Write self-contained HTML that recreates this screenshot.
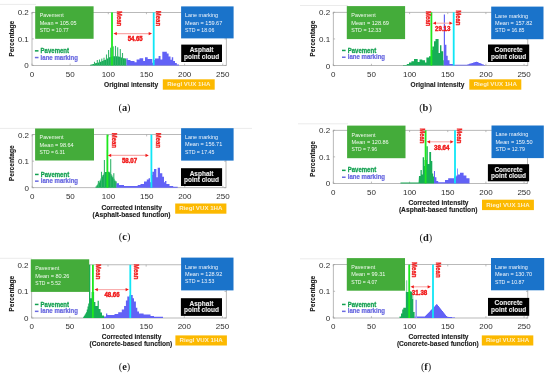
<!DOCTYPE html>
<html><head><meta charset="utf-8"><title>Intensity histograms</title>
<style>
html,body{margin:0;padding:0;background:#fff;}
body{width:550px;height:376px;overflow:hidden;}
svg{display:block;}
</style></head>
<body>
<svg width="550" height="376" viewBox="0 0 550 376">
<rect width="550" height="376" fill="#fff"/>
<line x1="0" y1="4.4" x2="36" y2="4.4" stroke="#e6e6e6" stroke-width="0.8"/>
<line x1="300" y1="5.5" x2="348" y2="5.5" stroke="#e6e6e6" stroke-width="0.8"/>
<line x1="0" y1="128.4" x2="252" y2="128.4" stroke="#e6e6e6" stroke-width="0.8"/>
<line x1="298" y1="123.8" x2="348" y2="123.8" stroke="#e6e6e6" stroke-width="0.8"/>
<line x1="0" y1="258.3" x2="32" y2="258.3" stroke="#e6e6e6" stroke-width="0.8"/>
<line x1="300" y1="258.8" x2="348" y2="258.8" stroke="#e6e6e6" stroke-width="0.8"/>
<rect x="32" y="12.4" width="194.3" height="53" fill="none" stroke="#a8a8a8" stroke-width="0.8"/>
<line x1="32" y1="65.4" x2="32" y2="63.6" stroke="#a0a0a0" stroke-width="0.7"/>
<line x1="32" y1="12.4" x2="32" y2="14.2" stroke="#a0a0a0" stroke-width="0.7"/>
<text transform="translate(32,76.7)" font-family="'Liberation Sans', Arial, sans-serif" font-size="8" font-weight="normal" fill="#2e2e2e" text-anchor="middle" >0</text>
<line x1="70.15" y1="65.4" x2="70.15" y2="63.6" stroke="#a0a0a0" stroke-width="0.7"/>
<line x1="70.15" y1="12.4" x2="70.15" y2="14.2" stroke="#a0a0a0" stroke-width="0.7"/>
<text transform="translate(70.15,76.7)" font-family="'Liberation Sans', Arial, sans-serif" font-size="8" font-weight="normal" fill="#2e2e2e" text-anchor="middle" >50</text>
<line x1="108.3" y1="65.4" x2="108.3" y2="63.6" stroke="#a0a0a0" stroke-width="0.7"/>
<line x1="108.3" y1="12.4" x2="108.3" y2="14.2" stroke="#a0a0a0" stroke-width="0.7"/>
<text transform="translate(108.3,76.7)" font-family="'Liberation Sans', Arial, sans-serif" font-size="8" font-weight="normal" fill="#2e2e2e" text-anchor="middle" >100</text>
<line x1="146.45" y1="65.4" x2="146.45" y2="63.6" stroke="#a0a0a0" stroke-width="0.7"/>
<line x1="146.45" y1="12.4" x2="146.45" y2="14.2" stroke="#a0a0a0" stroke-width="0.7"/>
<text transform="translate(146.45,76.7)" font-family="'Liberation Sans', Arial, sans-serif" font-size="8" font-weight="normal" fill="#2e2e2e" text-anchor="middle" >150</text>
<line x1="184.6" y1="65.4" x2="184.6" y2="63.6" stroke="#a0a0a0" stroke-width="0.7"/>
<line x1="184.6" y1="12.4" x2="184.6" y2="14.2" stroke="#a0a0a0" stroke-width="0.7"/>
<text transform="translate(184.6,76.7)" font-family="'Liberation Sans', Arial, sans-serif" font-size="8" font-weight="normal" fill="#2e2e2e" text-anchor="middle" >200</text>
<line x1="222.75" y1="65.4" x2="222.75" y2="63.6" stroke="#a0a0a0" stroke-width="0.7"/>
<line x1="222.75" y1="12.4" x2="222.75" y2="14.2" stroke="#a0a0a0" stroke-width="0.7"/>
<text transform="translate(222.75,76.7)" font-family="'Liberation Sans', Arial, sans-serif" font-size="8" font-weight="normal" fill="#2e2e2e" text-anchor="middle" >250</text>
<line x1="32" y1="65.4" x2="33.8" y2="65.4" stroke="#a0a0a0" stroke-width="0.7"/>
<line x1="226.3" y1="65.4" x2="224.5" y2="65.4" stroke="#a0a0a0" stroke-width="0.7"/>
<text transform="translate(28.8,68.3)" font-family="'Liberation Sans', Arial, sans-serif" font-size="8" font-weight="normal" fill="#2e2e2e" text-anchor="end" >0</text>
<line x1="32" y1="38.9" x2="33.8" y2="38.9" stroke="#a0a0a0" stroke-width="0.7"/>
<line x1="226.3" y1="38.9" x2="224.5" y2="38.9" stroke="#a0a0a0" stroke-width="0.7"/>
<text transform="translate(28.8,41.8)" font-family="'Liberation Sans', Arial, sans-serif" font-size="8" font-weight="normal" fill="#2e2e2e" text-anchor="end" >0.1</text>
<line x1="32" y1="12.4" x2="33.8" y2="12.4" stroke="#a0a0a0" stroke-width="0.7"/>
<line x1="226.3" y1="12.4" x2="224.5" y2="12.4" stroke="#a0a0a0" stroke-width="0.7"/>
<text transform="translate(28.8,15.3)" font-family="'Liberation Sans', Arial, sans-serif" font-size="8" font-weight="normal" fill="#2e2e2e" text-anchor="end" >0.2</text>
<text x="0" y="0" transform="translate(13.8,38.8) rotate(-90)" font-family="'Liberation Sans', Arial, sans-serif" font-size="6.7" font-weight="bold" fill="#1a1a1a" stroke="#1a1a1a" stroke-width="0.12" text-anchor="middle">Percentage</text>
<path d="M90,65.4 L90,64.85 L91,64.85 L91,64.55 L92,64.55 L92,64.25 L93,64.25 L93,63.95 L94,63.95 L94,63.65 L95,63.65 L95,63.35 L96,63.35 L96,63.05 L97,63.05 L97,62.75 L98,62.75 L98,62.45 L99,62.45 L99,62.15 L100,62.15 L100,61.79 L101,61.79 L101,61.38 L102,61.38 L102,60.96 L103,60.96 L103,60.54 L104,60.54 L104,60.12 L105,60.12 L105,59.71 L106,59.71 L106,59.19 L107,59.19 L107,58.56 L108,58.56 L108,57.94 L109,57.94 L109,57.31 L110,57.31 L110,56.88 L111,56.88 L111,56.65 L112,56.65 L112,56.42 L113,56.42 L113,56.31 L114,56.31 L114,56.33 L115,56.33 L115,56.35 L116,56.35 L116,56.37 L117,56.37 L117,56.39 L118,56.39 L118,56.55 L119,56.55 L119,56.85 L120,56.85 L120,57.15 L121,57.15 L121,57.45 L122,57.45 L122,57.78 L123,57.78 L123,58.15 L124,58.15 L124,58.51 L125,58.51 L125,58.87 L126,58.87 L126,59.13 L126.4,59.13 L126.4,65.4 Z" fill="#17ad57"/>
<rect x="93.95" y="61.8" width="1.1" height="3.6" fill="#35b56c" />
<rect x="96.75" y="60" width="1.1" height="5.4" fill="#35b56c" />
<rect x="98.95" y="59.5" width="1.1" height="5.9" fill="#35b56c" />
<rect x="101.25" y="58.6" width="1.1" height="6.8" fill="#35b56c" />
<rect x="103.45" y="57.7" width="1.1" height="7.7" fill="#35b56c" />
<rect x="105.95" y="54.5" width="1.1" height="10.9" fill="#35b56c" />
<rect x="108.05" y="50" width="1.1" height="15.4" fill="#35b56c" />
<rect x="110.15" y="47.7" width="1.1" height="17.7" fill="#35b56c" />
<rect x="112.65" y="46.4" width="1.1" height="19" fill="#35b56c" />
<rect x="114.95" y="45.9" width="1.1" height="19.5" fill="#35b56c" />
<rect x="117.15" y="47.3" width="1.1" height="18.1" fill="#35b56c" />
<rect x="119.75" y="49" width="1.1" height="16.4" fill="#35b56c" />
<rect x="121.95" y="53" width="1.1" height="12.4" fill="#35b56c" />
<rect x="124.45" y="58.2" width="1.1" height="7.2" fill="#35b56c" />
<path d="M126.4,65.4 L126.4,58.2 L127.7,58.2 L127.7,60 L130.5,60 L130.5,61 L134.5,61 L134.5,62.3 L136.6,62.3 L136.6,59.5 L139.5,59.5 L139.5,58.2 L143.2,58.2 L143.2,61 L145,61 L145,57.3 L147.7,57.3 L147.7,59 L152.3,59 L152.3,62.7 L153,62.7 L153,60 L155,60 L155,58.6 L158.6,58.6 L158.6,56 L160.5,56 L160.5,59.5 L162.3,59.5 L162.3,51.8 L166.8,51.8 L166.8,53.5 L168.6,53.5 L168.6,56.4 L170.5,56.4 L170.5,59.8 L171.8,59.8 L171.8,57.3 L173.2,57.3 L173.2,61 L175,61 L175,63 L176.8,63 L176.8,64.5 L179,64.5 L179,65.4 Z" fill="#6262f6"/>
<rect x="111.1" y="12.4" width="1.8" height="53" fill="#1ee81e" />
<rect x="152.8" y="12.4" width="1.8" height="53" fill="#10e6f6" />
<text x="0" y="0" transform="translate(117,10.9) rotate(90)" font-family="'Liberation Sans', Arial, sans-serif" font-size="7" font-weight="bold" fill="#f01818" stroke="#f01818" stroke-width="0.35" textLength="15.3" lengthAdjust="spacingAndGlyphs">Mean</text>
<text x="0" y="0" transform="translate(156,10.8) rotate(90)" font-family="'Liberation Sans', Arial, sans-serif" font-size="7" font-weight="bold" fill="#f01818" stroke="#f01818" stroke-width="0.35" textLength="15.3" lengthAdjust="spacingAndGlyphs">Mean</text>
<line x1="116" y1="33.6" x2="149.5" y2="33.6" stroke="#f9aaaa" stroke-width="1.1"/>
<path d="M113.5,33.6 L116.8,32 L116.8,35.2 Z" fill="#f01818"/>
<path d="M152,33.6 L148.7,32 L148.7,35.2 Z" fill="#f01818"/>
<text transform="translate(127.7,40.7) scale(0.9514,1)" font-family="'Liberation Sans', Arial, sans-serif" font-size="6.3" font-weight="bold" fill="#f01818" text-anchor="start" stroke="#f01818" stroke-width="0.42">54.65</text>
<rect x="35.2" y="6.3" width="58.4" height="32.5" fill="#44ac3a" />
<text transform="translate(39.7,17.2) scale(0.8884,1)" font-family="'Liberation Sans', Arial, sans-serif" font-size="6" font-weight="normal" fill="#f4fbf2" text-anchor="start" >Pavement</text>
<text transform="translate(39.7,24.5) scale(0.9155,1)" font-family="'Liberation Sans', Arial, sans-serif" font-size="6" font-weight="normal" fill="#f4fbf2" text-anchor="start" >Mean = 105.05</text>
<text transform="translate(39.7,31.8) scale(0.8596,1)" font-family="'Liberation Sans', Arial, sans-serif" font-size="6" font-weight="normal" fill="#f4fbf2" text-anchor="start" >STD = 10.77</text>
<rect x="181.1" y="6.4" width="52.5" height="32" fill="#1a73ca" />
<text transform="translate(185,17.3) scale(0.9077,1)" font-family="'Liberation Sans', Arial, sans-serif" font-size="6" font-weight="normal" fill="#f2f6fc" text-anchor="start" >Lane marking</text>
<text transform="translate(185,24.6) scale(0.9304,1)" font-family="'Liberation Sans', Arial, sans-serif" font-size="6" font-weight="normal" fill="#f2f6fc" text-anchor="start" >Mean = 159.67</text>
<text transform="translate(185,31.9) scale(0.8714,1)" font-family="'Liberation Sans', Arial, sans-serif" font-size="6" font-weight="normal" fill="#f2f6fc" text-anchor="start" >STD = 18.06</text>
<rect x="181.2" y="44.6" width="40.8" height="17.4" fill="#000" />
<text transform="translate(201.6,51.9)" font-family="'Liberation Sans', Arial, sans-serif" font-size="6.5" font-weight="bold" fill="#ececec" text-anchor="middle" stroke="#ececec" stroke-width="0.1">Asphalt</text>
<text transform="translate(201.6,58.7)" font-family="'Liberation Sans', Arial, sans-serif" font-size="6.5" font-weight="bold" fill="#ececec" text-anchor="middle" stroke="#ececec" stroke-width="0.1">point cloud</text>
<rect x="34.9" y="50.1" width="3.6" height="1.5" fill="#12a050" />
<rect x="34.9" y="56.8" width="3.6" height="1.5" fill="#6a6ae0" />
<text transform="translate(40.6,52.9) scale(0.9140,1)" font-family="'Liberation Sans', Arial, sans-serif" font-size="6.6" font-weight="bold" fill="#12a050" text-anchor="start" stroke="#12a050" stroke-width="0.25">Pavement</text>
<text transform="translate(40.6,59.6) scale(0.9186,1)" font-family="'Liberation Sans', Arial, sans-serif" font-size="6.6" font-weight="bold" fill="#6a6ae0" text-anchor="start" stroke="#6a6ae0" stroke-width="0.25">lane marking</text>
<text transform="translate(104,86.9) scale(1.0015,1)" font-family="'Liberation Sans', Arial, sans-serif" font-size="6.65" font-weight="bold" fill="#1a1a1a" text-anchor="start" stroke="#1a1a1a" stroke-width="0.12">Original intensity</text>
<rect x="162.8" y="79.3" width="51.9" height="10.4" fill="#fcb900" />
<text transform="translate(188.75,86.1) scale(0.9896,1)" font-family="'Liberation Sans', Arial, sans-serif" font-size="6.2" font-weight="bold" fill="#fdf0cc" text-anchor="middle" >Riegl VUX 1HA</text>
<text transform="translate(124.5,110.5)" font-family="'Liberation Serif', 'Times New Roman', serif" font-size="10.4" font-weight="bold" fill="#1a1a1a" text-anchor="middle" ><tspan font-weight="normal">(</tspan>a<tspan font-weight="normal">)</tspan></text>
<rect x="333.3" y="12.3" width="194.5" height="53.3" fill="none" stroke="#a8a8a8" stroke-width="0.8"/>
<line x1="333.3" y1="65.6" x2="333.3" y2="63.8" stroke="#a0a0a0" stroke-width="0.7"/>
<line x1="333.3" y1="12.3" x2="333.3" y2="14.1" stroke="#a0a0a0" stroke-width="0.7"/>
<text transform="translate(333.3,76.9)" font-family="'Liberation Sans', Arial, sans-serif" font-size="8" font-weight="normal" fill="#2e2e2e" text-anchor="middle" >0</text>
<line x1="371.45" y1="65.6" x2="371.45" y2="63.8" stroke="#a0a0a0" stroke-width="0.7"/>
<line x1="371.45" y1="12.3" x2="371.45" y2="14.1" stroke="#a0a0a0" stroke-width="0.7"/>
<text transform="translate(371.45,76.9)" font-family="'Liberation Sans', Arial, sans-serif" font-size="8" font-weight="normal" fill="#2e2e2e" text-anchor="middle" >50</text>
<line x1="409.6" y1="65.6" x2="409.6" y2="63.8" stroke="#a0a0a0" stroke-width="0.7"/>
<line x1="409.6" y1="12.3" x2="409.6" y2="14.1" stroke="#a0a0a0" stroke-width="0.7"/>
<text transform="translate(409.6,76.9)" font-family="'Liberation Sans', Arial, sans-serif" font-size="8" font-weight="normal" fill="#2e2e2e" text-anchor="middle" >100</text>
<line x1="447.75" y1="65.6" x2="447.75" y2="63.8" stroke="#a0a0a0" stroke-width="0.7"/>
<line x1="447.75" y1="12.3" x2="447.75" y2="14.1" stroke="#a0a0a0" stroke-width="0.7"/>
<text transform="translate(447.75,76.9)" font-family="'Liberation Sans', Arial, sans-serif" font-size="8" font-weight="normal" fill="#2e2e2e" text-anchor="middle" >150</text>
<line x1="485.9" y1="65.6" x2="485.9" y2="63.8" stroke="#a0a0a0" stroke-width="0.7"/>
<line x1="485.9" y1="12.3" x2="485.9" y2="14.1" stroke="#a0a0a0" stroke-width="0.7"/>
<text transform="translate(485.9,76.9)" font-family="'Liberation Sans', Arial, sans-serif" font-size="8" font-weight="normal" fill="#2e2e2e" text-anchor="middle" >200</text>
<line x1="524.05" y1="65.6" x2="524.05" y2="63.8" stroke="#a0a0a0" stroke-width="0.7"/>
<line x1="524.05" y1="12.3" x2="524.05" y2="14.1" stroke="#a0a0a0" stroke-width="0.7"/>
<text transform="translate(524.05,76.9)" font-family="'Liberation Sans', Arial, sans-serif" font-size="8" font-weight="normal" fill="#2e2e2e" text-anchor="middle" >250</text>
<line x1="333.3" y1="65.6" x2="335.1" y2="65.6" stroke="#a0a0a0" stroke-width="0.7"/>
<line x1="527.8" y1="65.6" x2="526" y2="65.6" stroke="#a0a0a0" stroke-width="0.7"/>
<text transform="translate(330.1,68.5)" font-family="'Liberation Sans', Arial, sans-serif" font-size="8" font-weight="normal" fill="#2e2e2e" text-anchor="end" >0</text>
<line x1="333.3" y1="38.95" x2="335.1" y2="38.95" stroke="#a0a0a0" stroke-width="0.7"/>
<line x1="527.8" y1="38.95" x2="526" y2="38.95" stroke="#a0a0a0" stroke-width="0.7"/>
<text transform="translate(330.1,41.85)" font-family="'Liberation Sans', Arial, sans-serif" font-size="8" font-weight="normal" fill="#2e2e2e" text-anchor="end" >0.1</text>
<line x1="333.3" y1="12.3" x2="335.1" y2="12.3" stroke="#a0a0a0" stroke-width="0.7"/>
<line x1="527.8" y1="12.3" x2="526" y2="12.3" stroke="#a0a0a0" stroke-width="0.7"/>
<text transform="translate(330.1,15.2)" font-family="'Liberation Sans', Arial, sans-serif" font-size="8" font-weight="normal" fill="#2e2e2e" text-anchor="end" >0.2</text>
<text x="0" y="0" transform="translate(315.1,38.6) rotate(-90)" font-family="'Liberation Sans', Arial, sans-serif" font-size="6.7" font-weight="bold" fill="#1a1a1a" stroke="#1a1a1a" stroke-width="0.12" text-anchor="middle">Percentage</text>
<path d="M403,65.6 L403,65 L406.8,65 L406.8,64 L409,64 L409,62.5 L411.4,62.5 L411.4,61.2 L414,61.2 L414,58.9 L417.7,58.9 L417.7,62 L419.5,62 L419.5,59.4 L422.3,59.4 L422.3,60.3 L425,60.3 L425,62.5 L426.4,62.5 L426.4,57.5 L429,57.5 L429,56.2 L430.9,56.2 L430.9,50 L432.3,50 L432.3,46.6 L434,46.6 L434,41.2 L435.5,41.2 L435.5,38.9 L438.6,38.9 L438.6,53 L440,53 L440,45.3 L441.4,45.3 L441.4,51.2 L443.2,51.2 L443.2,60.3 L443.8,60.3 L443.8,65.6 Z" fill="#17ad57"/>
<path d="M443.8,65.6 L443.8,14.5 L445,14.5 L445,44.8 L446.4,44.8 L446.4,55.7 L447.7,55.7 L447.7,60.3 L449.5,60.3 L449.5,64 L453,64 L453,64.8 L466,64.8 L466,64.84 L467,64.84 L467,64.51 L468,64.51 L468,64.18 L469,64.18 L469,63.86 L470,63.86 L470,63.53 L471,63.53 L471,63.2 L472,63.2 L472,62.88 L473,62.88 L473,62.55 L474,62.55 L474,62.22 L475,62.22 L475,61.89 L476,61.89 L476,61.64 L477,61.64 L477,62.06 L478,62.06 L478,62.48 L479,62.48 L479,62.9 L480,62.9 L480,63.32 L481,63.32 L481,63.73 L482,63.73 L482,64.15 L483,64.15 L483,64.57 L484,64.57 L484,64.99 L485,64.99 L485,65.6 Z" fill="#6262f6"/>
<rect x="430.5" y="12.3" width="1.8" height="53.3" fill="#1ee81e" />
<rect x="452.8" y="12.3" width="1.8" height="53.3" fill="#10e6f6" />
<text x="0" y="0" transform="translate(425.5,10.9) rotate(90)" font-family="'Liberation Sans', Arial, sans-serif" font-size="7" font-weight="bold" fill="#f01818" stroke="#f01818" stroke-width="0.35" textLength="15.3" lengthAdjust="spacingAndGlyphs">Mean</text>
<text x="0" y="0" transform="translate(456.4,10.2) rotate(90)" font-family="'Liberation Sans', Arial, sans-serif" font-size="7" font-weight="bold" fill="#f01818" stroke="#f01818" stroke-width="0.35" textLength="15.3" lengthAdjust="spacingAndGlyphs">Mean</text>
<line x1="435.2" y1="23.2" x2="450.2" y2="23.2" stroke="#f9aaaa" stroke-width="1.1"/>
<path d="M432.7,23.2 L436,21.6 L436,24.8 Z" fill="#f01818"/>
<path d="M452.7,23.2 L449.4,21.6 L449.4,24.8 Z" fill="#f01818"/>
<text transform="translate(435,31.4) scale(0.9832,1)" font-family="'Liberation Sans', Arial, sans-serif" font-size="6.3" font-weight="bold" fill="#f01818" text-anchor="start" stroke="#f01818" stroke-width="0.42">29.13</text>
<rect x="346.8" y="6.1" width="58.3" height="33" fill="#44ac3a" />
<text transform="translate(351.3,17.4) scale(0.9032,1)" font-family="'Liberation Sans', Arial, sans-serif" font-size="6" font-weight="normal" fill="#f4fbf2" text-anchor="start" >Pavement</text>
<text transform="translate(351.3,24.7) scale(0.9378,1)" font-family="'Liberation Sans', Arial, sans-serif" font-size="6" font-weight="normal" fill="#f4fbf2" text-anchor="start" >Mean = 128.69</text>
<text transform="translate(351.3,32) scale(0.8862,1)" font-family="'Liberation Sans', Arial, sans-serif" font-size="6" font-weight="normal" fill="#f4fbf2" text-anchor="start" >STD = 12.33</text>
<rect x="491.2" y="6.6" width="52.3" height="32.6" fill="#1a73ca" />
<text transform="translate(495.1,17.5) scale(0.9077,1)" font-family="'Liberation Sans', Arial, sans-serif" font-size="6" font-weight="normal" fill="#f2f6fc" text-anchor="start" >Lane marking</text>
<text transform="translate(495.1,24.8) scale(0.9304,1)" font-family="'Liberation Sans', Arial, sans-serif" font-size="6" font-weight="normal" fill="#f2f6fc" text-anchor="start" >Mean = 157.82</text>
<text transform="translate(495.1,32.1) scale(0.8714,1)" font-family="'Liberation Sans', Arial, sans-serif" font-size="6" font-weight="normal" fill="#f2f6fc" text-anchor="start" >STD = 16.85</text>
<rect x="488" y="44.5" width="41.2" height="17.5" fill="#000" />
<text transform="translate(508.6,51.8)" font-family="'Liberation Sans', Arial, sans-serif" font-size="6.5" font-weight="bold" fill="#ececec" text-anchor="middle" stroke="#ececec" stroke-width="0.1">Concrete</text>
<text transform="translate(508.6,58.6)" font-family="'Liberation Sans', Arial, sans-serif" font-size="6.5" font-weight="bold" fill="#ececec" text-anchor="middle" stroke="#ececec" stroke-width="0.1">point cloud</text>
<rect x="342" y="49.7" width="3.6" height="1.5" fill="#12a050" />
<rect x="342" y="56.5" width="3.6" height="1.5" fill="#6a6ae0" />
<text transform="translate(347.7,52.5) scale(0.9140,1)" font-family="'Liberation Sans', Arial, sans-serif" font-size="6.6" font-weight="bold" fill="#12a050" text-anchor="start" stroke="#12a050" stroke-width="0.25">Pavement</text>
<text transform="translate(347.7,59.3) scale(0.9186,1)" font-family="'Liberation Sans', Arial, sans-serif" font-size="6.6" font-weight="bold" fill="#6a6ae0" text-anchor="start" stroke="#6a6ae0" stroke-width="0.25">lane marking</text>
<text transform="translate(410.6,86.7) scale(0.9923,1)" font-family="'Liberation Sans', Arial, sans-serif" font-size="6.65" font-weight="bold" fill="#1a1a1a" text-anchor="start" stroke="#1a1a1a" stroke-width="0.12">Original intensity</text>
<rect x="469.3" y="79.3" width="52" height="10.4" fill="#fcb900" />
<text transform="translate(495.3,86.1) scale(0.9896,1)" font-family="'Liberation Sans', Arial, sans-serif" font-size="6.2" font-weight="bold" fill="#fdf0cc" text-anchor="middle" >Riegl VUX 1HA</text>
<text transform="translate(425.5,110.5)" font-family="'Liberation Serif', 'Times New Roman', serif" font-size="10.4" font-weight="bold" fill="#1a1a1a" text-anchor="middle" ><tspan font-weight="normal">(</tspan>b<tspan font-weight="normal">)</tspan></text>
<rect x="32.2" y="134.6" width="193.8" height="53.1" fill="none" stroke="#a8a8a8" stroke-width="0.8"/>
<line x1="32.2" y1="187.7" x2="32.2" y2="185.9" stroke="#a0a0a0" stroke-width="0.7"/>
<line x1="32.2" y1="134.6" x2="32.2" y2="136.4" stroke="#a0a0a0" stroke-width="0.7"/>
<text transform="translate(32.2,199)" font-family="'Liberation Sans', Arial, sans-serif" font-size="8" font-weight="normal" fill="#2e2e2e" text-anchor="middle" >0</text>
<line x1="70.35" y1="187.7" x2="70.35" y2="185.9" stroke="#a0a0a0" stroke-width="0.7"/>
<line x1="70.35" y1="134.6" x2="70.35" y2="136.4" stroke="#a0a0a0" stroke-width="0.7"/>
<text transform="translate(70.35,199)" font-family="'Liberation Sans', Arial, sans-serif" font-size="8" font-weight="normal" fill="#2e2e2e" text-anchor="middle" >50</text>
<line x1="108.5" y1="187.7" x2="108.5" y2="185.9" stroke="#a0a0a0" stroke-width="0.7"/>
<line x1="108.5" y1="134.6" x2="108.5" y2="136.4" stroke="#a0a0a0" stroke-width="0.7"/>
<text transform="translate(108.5,199)" font-family="'Liberation Sans', Arial, sans-serif" font-size="8" font-weight="normal" fill="#2e2e2e" text-anchor="middle" >100</text>
<line x1="146.65" y1="187.7" x2="146.65" y2="185.9" stroke="#a0a0a0" stroke-width="0.7"/>
<line x1="146.65" y1="134.6" x2="146.65" y2="136.4" stroke="#a0a0a0" stroke-width="0.7"/>
<text transform="translate(146.65,199)" font-family="'Liberation Sans', Arial, sans-serif" font-size="8" font-weight="normal" fill="#2e2e2e" text-anchor="middle" >150</text>
<line x1="184.8" y1="187.7" x2="184.8" y2="185.9" stroke="#a0a0a0" stroke-width="0.7"/>
<line x1="184.8" y1="134.6" x2="184.8" y2="136.4" stroke="#a0a0a0" stroke-width="0.7"/>
<text transform="translate(184.8,199)" font-family="'Liberation Sans', Arial, sans-serif" font-size="8" font-weight="normal" fill="#2e2e2e" text-anchor="middle" >200</text>
<line x1="222.95" y1="187.7" x2="222.95" y2="185.9" stroke="#a0a0a0" stroke-width="0.7"/>
<line x1="222.95" y1="134.6" x2="222.95" y2="136.4" stroke="#a0a0a0" stroke-width="0.7"/>
<text transform="translate(222.95,199)" font-family="'Liberation Sans', Arial, sans-serif" font-size="8" font-weight="normal" fill="#2e2e2e" text-anchor="middle" >250</text>
<line x1="32.2" y1="187.7" x2="34" y2="187.7" stroke="#a0a0a0" stroke-width="0.7"/>
<line x1="226" y1="187.7" x2="224.2" y2="187.7" stroke="#a0a0a0" stroke-width="0.7"/>
<text transform="translate(29,190.6)" font-family="'Liberation Sans', Arial, sans-serif" font-size="8" font-weight="normal" fill="#2e2e2e" text-anchor="end" >0</text>
<line x1="32.2" y1="161.15" x2="34" y2="161.15" stroke="#a0a0a0" stroke-width="0.7"/>
<line x1="226" y1="161.15" x2="224.2" y2="161.15" stroke="#a0a0a0" stroke-width="0.7"/>
<text transform="translate(29,164.05)" font-family="'Liberation Sans', Arial, sans-serif" font-size="8" font-weight="normal" fill="#2e2e2e" text-anchor="end" >0.1</text>
<line x1="32.2" y1="134.6" x2="34" y2="134.6" stroke="#a0a0a0" stroke-width="0.7"/>
<line x1="226" y1="134.6" x2="224.2" y2="134.6" stroke="#a0a0a0" stroke-width="0.7"/>
<text transform="translate(29,137.5)" font-family="'Liberation Sans', Arial, sans-serif" font-size="8" font-weight="normal" fill="#2e2e2e" text-anchor="end" >0.2</text>
<text x="0" y="0" transform="translate(14,163.2) rotate(-90)" font-family="'Liberation Sans', Arial, sans-serif" font-size="6.7" font-weight="bold" fill="#1a1a1a" stroke="#1a1a1a" stroke-width="0.12" text-anchor="middle">Percentage</text>
<path d="M95.5,187.7 L95.5,186.53 L96.5,186.53 L96.5,185.19 L97.5,185.19 L97.5,183.84 L98.5,183.84 L98.5,182.5 L99.5,182.5 L99.5,180.5 L100.5,180.5 L100.5,178.5 L101.5,178.5 L101.5,176.5 L102.5,176.5 L102.5,175 L103.5,175 L103.5,173.5 L104.5,173.5 L104.5,172 L105.5,172 L105.5,171.96 L106.5,171.96 L106.5,171.91 L107.5,171.91 L107.5,171.87 L108.5,171.87 L108.5,171.82 L109.5,171.82 L109.5,172.54 L110.5,172.54 L110.5,174.02 L111.5,174.02 L111.5,175.5 L112.5,175.5 L112.5,177.17 L113.5,177.17 L113.5,178.83 L114.5,178.83 L114.5,180.5 L115.5,180.5 L115.5,181.52 L116.4,181.52 L116.4,187.7 Z" fill="#17ad57"/>
<rect x="97.85" y="180.9" width="1.1" height="6.8" fill="#35b56c" />
<rect x="100.95" y="171.8" width="1.1" height="15.9" fill="#35b56c" />
<rect x="103.85" y="160" width="1.1" height="27.7" fill="#35b56c" />
<rect x="106.85" y="150" width="1.1" height="37.7" fill="#35b56c" />
<rect x="110.15" y="159.1" width="1.1" height="28.6" fill="#35b56c" />
<rect x="113.25" y="173.2" width="1.1" height="14.5" fill="#35b56c" />
<rect x="115.45" y="181.4" width="1.1" height="6.3" fill="#35b56c" />
<path d="M116.4,187.7 L116.4,183.2 L119,183.2 L119,185 L124,185 L124,186 L135,186 L135,185.9 L137.7,185.9 L137.7,185 L140.5,185 L140.5,184 L144,184 L144,181.4 L146.8,181.4 L146.8,179.5 L148.6,179.5 L148.6,178.2 L150,178.2 L150,182.3 L151,182.3 L151,175 L152.3,175 L152.3,171.8 L154,171.8 L154,169 L156.4,169 L156.4,177.3 L157.7,177.3 L157.7,167.7 L160,167.7 L160,173.2 L162.3,173.2 L162.3,176.8 L164,176.8 L164,182.3 L165,182.3 L165,180.9 L166.4,180.9 L166.4,184 L169.5,184 L169.5,185.9 L173.2,185.9 L173.2,186.8 L177.7,186.8 L177.7,187.7 Z" fill="#6262f6"/>
<rect x="106.5" y="134.6" width="1.8" height="53.1" fill="#1ee81e" />
<rect x="150.5" y="134.6" width="1.8" height="53.1" fill="#10e6f6" />
<text x="0" y="0" transform="translate(112.4,132.7) rotate(90)" font-family="'Liberation Sans', Arial, sans-serif" font-size="7" font-weight="bold" fill="#f01818" stroke="#f01818" stroke-width="0.35" textLength="15.3" lengthAdjust="spacingAndGlyphs">Mean</text>
<text x="0" y="0" transform="translate(155.6,132.7) rotate(90)" font-family="'Liberation Sans', Arial, sans-serif" font-size="7" font-weight="bold" fill="#f01818" stroke="#f01818" stroke-width="0.35" textLength="15.3" lengthAdjust="spacingAndGlyphs">Mean</text>
<line x1="110.4" y1="155.4" x2="146.3" y2="155.4" stroke="#f9aaaa" stroke-width="1.1"/>
<path d="M107.9,155.4 L111.2,153.8 L111.2,157 Z" fill="#f01818"/>
<path d="M148.8,155.4 L145.5,153.8 L145.5,157 Z" fill="#f01818"/>
<text transform="translate(121.9,162.9) scale(0.9705,1)" font-family="'Liberation Sans', Arial, sans-serif" font-size="6.3" font-weight="bold" fill="#f01818" text-anchor="start" stroke="#f01818" stroke-width="0.42">58.07</text>
<rect x="35.1" y="128.5" width="58.9" height="32" fill="#44ac3a" />
<text transform="translate(39.6,139.4) scale(0.8884,1)" font-family="'Liberation Sans', Arial, sans-serif" font-size="6" font-weight="normal" fill="#f4fbf2" text-anchor="start" >Pavement</text>
<text transform="translate(39.6,146.7) scale(0.9278,1)" font-family="'Liberation Sans', Arial, sans-serif" font-size="6" font-weight="normal" fill="#f4fbf2" text-anchor="start" >Mean = 98.64</text>
<text transform="translate(39.6,154) scale(0.8324,1)" font-family="'Liberation Sans', Arial, sans-serif" font-size="6" font-weight="normal" fill="#f4fbf2" text-anchor="start" >STD = 6.31</text>
<rect x="181.1" y="128.2" width="52.5" height="32.4" fill="#1a73ca" />
<text transform="translate(185,139.1) scale(0.9077,1)" font-family="'Liberation Sans', Arial, sans-serif" font-size="6" font-weight="normal" fill="#f2f6fc" text-anchor="start" >Lane marking</text>
<text transform="translate(185,146.4) scale(0.9304,1)" font-family="'Liberation Sans', Arial, sans-serif" font-size="6" font-weight="normal" fill="#f2f6fc" text-anchor="start" >Mean = 156.71</text>
<text transform="translate(185,153.7) scale(0.8714,1)" font-family="'Liberation Sans', Arial, sans-serif" font-size="6" font-weight="normal" fill="#f2f6fc" text-anchor="start" >STD = 17.45</text>
<rect x="181" y="168.2" width="41.1" height="17.8" fill="#000" />
<text transform="translate(201.55,175.5)" font-family="'Liberation Sans', Arial, sans-serif" font-size="6.5" font-weight="bold" fill="#ececec" text-anchor="middle" stroke="#ececec" stroke-width="0.1">Asphalt</text>
<text transform="translate(201.55,182.3)" font-family="'Liberation Sans', Arial, sans-serif" font-size="6.5" font-weight="bold" fill="#ececec" text-anchor="middle" stroke="#ececec" stroke-width="0.1">point cloud</text>
<rect x="35" y="173.7" width="3.6" height="1.5" fill="#12a050" />
<rect x="35" y="180.4" width="3.6" height="1.5" fill="#6a6ae0" />
<text transform="translate(40.7,176.5) scale(0.9140,1)" font-family="'Liberation Sans', Arial, sans-serif" font-size="6.6" font-weight="bold" fill="#12a050" text-anchor="start" stroke="#12a050" stroke-width="0.25">Pavement</text>
<text transform="translate(40.7,183.2) scale(0.9186,1)" font-family="'Liberation Sans', Arial, sans-serif" font-size="6.6" font-weight="bold" fill="#6a6ae0" text-anchor="start" stroke="#6a6ae0" stroke-width="0.25">lane marking</text>
<text transform="translate(101.5,209.7) scale(0.9983,1)" font-family="'Liberation Sans', Arial, sans-serif" font-size="6.65" font-weight="bold" fill="#1a1a1a" text-anchor="start" stroke="#1a1a1a" stroke-width="0.12">Corrected intensity</text>
<text transform="translate(92.5,216.6) scale(0.9985,1)" font-family="'Liberation Sans', Arial, sans-serif" font-size="6.65" font-weight="bold" fill="#1a1a1a" text-anchor="start" stroke="#1a1a1a" stroke-width="0.12">(Asphalt-based function)</text>
<rect x="175.2" y="203.5" width="51.2" height="10.2" fill="#fcb900" />
<text transform="translate(200.8,210.1) scale(0.9896,1)" font-family="'Liberation Sans', Arial, sans-serif" font-size="6.2" font-weight="bold" fill="#fdf0cc" text-anchor="middle" >Riegl VUX 1HA</text>
<text transform="translate(124.6,240.3)" font-family="'Liberation Serif', 'Times New Roman', serif" font-size="10.4" font-weight="bold" fill="#1a1a1a" text-anchor="middle" ><tspan font-weight="normal">(</tspan>c<tspan font-weight="normal">)</tspan></text>
<rect x="333.3" y="130.3" width="194.3" height="53.1" fill="none" stroke="#a8a8a8" stroke-width="0.8"/>
<line x1="333.3" y1="183.4" x2="333.3" y2="181.6" stroke="#a0a0a0" stroke-width="0.7"/>
<line x1="333.3" y1="130.3" x2="333.3" y2="132.1" stroke="#a0a0a0" stroke-width="0.7"/>
<text transform="translate(333.3,194.7)" font-family="'Liberation Sans', Arial, sans-serif" font-size="8" font-weight="normal" fill="#2e2e2e" text-anchor="middle" >0</text>
<line x1="371.45" y1="183.4" x2="371.45" y2="181.6" stroke="#a0a0a0" stroke-width="0.7"/>
<line x1="371.45" y1="130.3" x2="371.45" y2="132.1" stroke="#a0a0a0" stroke-width="0.7"/>
<text transform="translate(371.45,194.7)" font-family="'Liberation Sans', Arial, sans-serif" font-size="8" font-weight="normal" fill="#2e2e2e" text-anchor="middle" >50</text>
<line x1="409.6" y1="183.4" x2="409.6" y2="181.6" stroke="#a0a0a0" stroke-width="0.7"/>
<line x1="409.6" y1="130.3" x2="409.6" y2="132.1" stroke="#a0a0a0" stroke-width="0.7"/>
<text transform="translate(409.6,194.7)" font-family="'Liberation Sans', Arial, sans-serif" font-size="8" font-weight="normal" fill="#2e2e2e" text-anchor="middle" >100</text>
<line x1="447.75" y1="183.4" x2="447.75" y2="181.6" stroke="#a0a0a0" stroke-width="0.7"/>
<line x1="447.75" y1="130.3" x2="447.75" y2="132.1" stroke="#a0a0a0" stroke-width="0.7"/>
<text transform="translate(447.75,194.7)" font-family="'Liberation Sans', Arial, sans-serif" font-size="8" font-weight="normal" fill="#2e2e2e" text-anchor="middle" >150</text>
<line x1="485.9" y1="183.4" x2="485.9" y2="181.6" stroke="#a0a0a0" stroke-width="0.7"/>
<line x1="485.9" y1="130.3" x2="485.9" y2="132.1" stroke="#a0a0a0" stroke-width="0.7"/>
<text transform="translate(485.9,194.7)" font-family="'Liberation Sans', Arial, sans-serif" font-size="8" font-weight="normal" fill="#2e2e2e" text-anchor="middle" >200</text>
<line x1="524.05" y1="183.4" x2="524.05" y2="181.6" stroke="#a0a0a0" stroke-width="0.7"/>
<line x1="524.05" y1="130.3" x2="524.05" y2="132.1" stroke="#a0a0a0" stroke-width="0.7"/>
<text transform="translate(524.05,194.7)" font-family="'Liberation Sans', Arial, sans-serif" font-size="8" font-weight="normal" fill="#2e2e2e" text-anchor="middle" >250</text>
<line x1="333.3" y1="183.4" x2="335.1" y2="183.4" stroke="#a0a0a0" stroke-width="0.7"/>
<line x1="527.6" y1="183.4" x2="525.8" y2="183.4" stroke="#a0a0a0" stroke-width="0.7"/>
<text transform="translate(330.1,186.3)" font-family="'Liberation Sans', Arial, sans-serif" font-size="8" font-weight="normal" fill="#2e2e2e" text-anchor="end" >0</text>
<line x1="333.3" y1="156.85" x2="335.1" y2="156.85" stroke="#a0a0a0" stroke-width="0.7"/>
<line x1="527.6" y1="156.85" x2="525.8" y2="156.85" stroke="#a0a0a0" stroke-width="0.7"/>
<text transform="translate(330.1,159.75)" font-family="'Liberation Sans', Arial, sans-serif" font-size="8" font-weight="normal" fill="#2e2e2e" text-anchor="end" >0.1</text>
<line x1="333.3" y1="130.3" x2="335.1" y2="130.3" stroke="#a0a0a0" stroke-width="0.7"/>
<line x1="527.6" y1="130.3" x2="525.8" y2="130.3" stroke="#a0a0a0" stroke-width="0.7"/>
<text transform="translate(330.1,133.2)" font-family="'Liberation Sans', Arial, sans-serif" font-size="8" font-weight="normal" fill="#2e2e2e" text-anchor="end" >0.2</text>
<text x="0" y="0" transform="translate(315.1,159) rotate(-90)" font-family="'Liberation Sans', Arial, sans-serif" font-size="6.7" font-weight="bold" fill="#1a1a1a" stroke="#1a1a1a" stroke-width="0.12" text-anchor="middle">Percentage</text>
<path d="M400.5,183.4 L400.5,182.5 L418.6,182.5 L419,175.9 L420.5,175.9 L420.5,170 L421.8,170 L421.8,174.5 L422.7,174.5 L422.7,157.3 L424,157.3 L424,166 L424.5,166 L424.5,160 L426.4,160 L426.4,146.2 L427.8,146.2 L427.8,164 L429.3,164 L429.3,152 L431.1,152 L431.1,161 L432.3,161 L432.3,173.6 L433.2,173.6 L433.2,176.4 L434,176.4 L434,183.4 Z" fill="#17ad57"/>
<path d="M434,183.4 L434,170.9 L435,170.9 L435,177.3 L436.4,177.3 L436.4,181 L438.2,181 L438.2,182.3 L445,182.3 L445,180 L448.2,180 L448.2,178.2 L454,178.2 L454,176.5 L456.4,176.5 L456.4,175.5 L457.3,175.5 L457.3,168.6 L458,168.6 L458,174.5 L460,174.5 L460,172.7 L463.6,172.7 L463.6,175.5 L466.4,175.5 L466.4,178.2 L469.5,178.2 L469.5,183.4 Z" fill="#6262f6"/>
<rect x="424.7" y="130.3" width="1.8" height="53.1" fill="#1ee81e" />
<rect x="454.1" y="130.3" width="1.8" height="53.1" fill="#10e6f6" />
<text x="0" y="0" transform="translate(419.5,128.2) rotate(90)" font-family="'Liberation Sans', Arial, sans-serif" font-size="7" font-weight="bold" fill="#f01818" stroke="#f01818" stroke-width="0.35" textLength="15.3" lengthAdjust="spacingAndGlyphs">Mean</text>
<text x="0" y="0" transform="translate(456.8,128.2) rotate(90)" font-family="'Liberation Sans', Arial, sans-serif" font-size="7" font-weight="bold" fill="#f01818" stroke="#f01818" stroke-width="0.35" textLength="15.3" lengthAdjust="spacingAndGlyphs">Mean</text>
<line x1="429.3" y1="141.8" x2="451.1" y2="141.8" stroke="#f9aaaa" stroke-width="1.1"/>
<path d="M426.8,141.8 L430.1,140.2 L430.1,143.4 Z" fill="#f01818"/>
<path d="M453.6,141.8 L450.3,140.2 L450.3,143.4 Z" fill="#f01818"/>
<text transform="translate(434,150) scale(0.9832,1)" font-family="'Liberation Sans', Arial, sans-serif" font-size="6.3" font-weight="bold" fill="#f01818" text-anchor="start" stroke="#f01818" stroke-width="0.42">38.64</text>
<rect x="347.1" y="125.6" width="58.4" height="32.6" fill="#44ac3a" />
<text transform="translate(351.6,136.5) scale(0.8884,1)" font-family="'Liberation Sans', Arial, sans-serif" font-size="6" font-weight="normal" fill="#f4fbf2" text-anchor="start" >Pavement</text>
<text transform="translate(351.6,143.8) scale(0.9229,1)" font-family="'Liberation Sans', Arial, sans-serif" font-size="6" font-weight="normal" fill="#f4fbf2" text-anchor="start" >Mean = 120.86</text>
<text transform="translate(351.6,151.1) scale(0.8324,1)" font-family="'Liberation Sans', Arial, sans-serif" font-size="6" font-weight="normal" fill="#f4fbf2" text-anchor="start" >STD = 7.96</text>
<rect x="491.5" y="125.5" width="52.3" height="32.6" fill="#1a73ca" />
<text transform="translate(495.4,136.4) scale(0.9077,1)" font-family="'Liberation Sans', Arial, sans-serif" font-size="6" font-weight="normal" fill="#f2f6fc" text-anchor="start" >Lane marking</text>
<text transform="translate(495.4,143.7) scale(0.9304,1)" font-family="'Liberation Sans', Arial, sans-serif" font-size="6" font-weight="normal" fill="#f2f6fc" text-anchor="start" >Mean = 159.50</text>
<text transform="translate(495.4,151) scale(0.8714,1)" font-family="'Liberation Sans', Arial, sans-serif" font-size="6" font-weight="normal" fill="#f2f6fc" text-anchor="start" >STD = 12.79</text>
<rect x="487.9" y="164.2" width="41.2" height="17.1" fill="#000" />
<text transform="translate(508.5,171.5)" font-family="'Liberation Sans', Arial, sans-serif" font-size="6.5" font-weight="bold" fill="#ececec" text-anchor="middle" stroke="#ececec" stroke-width="0.1">Concrete</text>
<text transform="translate(508.5,178.3)" font-family="'Liberation Sans', Arial, sans-serif" font-size="6.5" font-weight="bold" fill="#ececec" text-anchor="middle" stroke="#ececec" stroke-width="0.1">point cloud</text>
<rect x="342" y="169.6" width="3.6" height="1.5" fill="#12a050" />
<rect x="342" y="176.5" width="3.6" height="1.5" fill="#6a6ae0" />
<text transform="translate(347.7,172.4) scale(0.9140,1)" font-family="'Liberation Sans', Arial, sans-serif" font-size="6.6" font-weight="bold" fill="#12a050" text-anchor="start" stroke="#12a050" stroke-width="0.25">Pavement</text>
<text transform="translate(347.7,179.3) scale(0.9186,1)" font-family="'Liberation Sans', Arial, sans-serif" font-size="6.6" font-weight="bold" fill="#6a6ae0" text-anchor="start" stroke="#6a6ae0" stroke-width="0.25">lane marking</text>
<text transform="translate(408.5,204.7) scale(0.9933,1)" font-family="'Liberation Sans', Arial, sans-serif" font-size="6.65" font-weight="bold" fill="#1a1a1a" text-anchor="start" stroke="#1a1a1a" stroke-width="0.12">Corrected intensity</text>
<text transform="translate(398.9,212) scale(1.0036,1)" font-family="'Liberation Sans', Arial, sans-serif" font-size="6.65" font-weight="bold" fill="#1a1a1a" text-anchor="start" stroke="#1a1a1a" stroke-width="0.12">(Asphalt-based function)</text>
<rect x="482" y="199.7" width="51.9" height="10.4" fill="#fcb900" />
<text transform="translate(507.95,206.5) scale(0.9896,1)" font-family="'Liberation Sans', Arial, sans-serif" font-size="6.2" font-weight="bold" fill="#fdf0cc" text-anchor="middle" >Riegl VUX 1HA</text>
<text transform="translate(425.9,240.5)" font-family="'Liberation Serif', 'Times New Roman', serif" font-size="10.4" font-weight="bold" fill="#1a1a1a" text-anchor="middle" ><tspan font-weight="normal">(</tspan>d<tspan font-weight="normal">)</tspan></text>
<rect x="31.7" y="264.8" width="194.6" height="53.2" fill="none" stroke="#a8a8a8" stroke-width="0.8"/>
<line x1="31.7" y1="318" x2="31.7" y2="316.2" stroke="#a0a0a0" stroke-width="0.7"/>
<line x1="31.7" y1="264.8" x2="31.7" y2="266.6" stroke="#a0a0a0" stroke-width="0.7"/>
<text transform="translate(31.7,329.3)" font-family="'Liberation Sans', Arial, sans-serif" font-size="8" font-weight="normal" fill="#2e2e2e" text-anchor="middle" >0</text>
<line x1="69.85" y1="318" x2="69.85" y2="316.2" stroke="#a0a0a0" stroke-width="0.7"/>
<line x1="69.85" y1="264.8" x2="69.85" y2="266.6" stroke="#a0a0a0" stroke-width="0.7"/>
<text transform="translate(69.85,329.3)" font-family="'Liberation Sans', Arial, sans-serif" font-size="8" font-weight="normal" fill="#2e2e2e" text-anchor="middle" >50</text>
<line x1="108" y1="318" x2="108" y2="316.2" stroke="#a0a0a0" stroke-width="0.7"/>
<line x1="108" y1="264.8" x2="108" y2="266.6" stroke="#a0a0a0" stroke-width="0.7"/>
<text transform="translate(108,329.3)" font-family="'Liberation Sans', Arial, sans-serif" font-size="8" font-weight="normal" fill="#2e2e2e" text-anchor="middle" >100</text>
<line x1="146.15" y1="318" x2="146.15" y2="316.2" stroke="#a0a0a0" stroke-width="0.7"/>
<line x1="146.15" y1="264.8" x2="146.15" y2="266.6" stroke="#a0a0a0" stroke-width="0.7"/>
<text transform="translate(146.15,329.3)" font-family="'Liberation Sans', Arial, sans-serif" font-size="8" font-weight="normal" fill="#2e2e2e" text-anchor="middle" >150</text>
<line x1="184.3" y1="318" x2="184.3" y2="316.2" stroke="#a0a0a0" stroke-width="0.7"/>
<line x1="184.3" y1="264.8" x2="184.3" y2="266.6" stroke="#a0a0a0" stroke-width="0.7"/>
<text transform="translate(184.3,329.3)" font-family="'Liberation Sans', Arial, sans-serif" font-size="8" font-weight="normal" fill="#2e2e2e" text-anchor="middle" >200</text>
<line x1="222.45" y1="318" x2="222.45" y2="316.2" stroke="#a0a0a0" stroke-width="0.7"/>
<line x1="222.45" y1="264.8" x2="222.45" y2="266.6" stroke="#a0a0a0" stroke-width="0.7"/>
<text transform="translate(222.45,329.3)" font-family="'Liberation Sans', Arial, sans-serif" font-size="8" font-weight="normal" fill="#2e2e2e" text-anchor="middle" >250</text>
<line x1="31.7" y1="318" x2="33.5" y2="318" stroke="#a0a0a0" stroke-width="0.7"/>
<line x1="226.3" y1="318" x2="224.5" y2="318" stroke="#a0a0a0" stroke-width="0.7"/>
<text transform="translate(28.5,320.9)" font-family="'Liberation Sans', Arial, sans-serif" font-size="8" font-weight="normal" fill="#2e2e2e" text-anchor="end" >0</text>
<line x1="31.7" y1="291.4" x2="33.5" y2="291.4" stroke="#a0a0a0" stroke-width="0.7"/>
<line x1="226.3" y1="291.4" x2="224.5" y2="291.4" stroke="#a0a0a0" stroke-width="0.7"/>
<text transform="translate(28.5,294.3)" font-family="'Liberation Sans', Arial, sans-serif" font-size="8" font-weight="normal" fill="#2e2e2e" text-anchor="end" >0.1</text>
<line x1="31.7" y1="264.8" x2="33.5" y2="264.8" stroke="#a0a0a0" stroke-width="0.7"/>
<line x1="226.3" y1="264.8" x2="224.5" y2="264.8" stroke="#a0a0a0" stroke-width="0.7"/>
<text transform="translate(28.5,267.7)" font-family="'Liberation Sans', Arial, sans-serif" font-size="8" font-weight="normal" fill="#2e2e2e" text-anchor="end" >0.2</text>
<text x="0" y="0" transform="translate(13.5,293.7) rotate(-90)" font-family="'Liberation Sans', Arial, sans-serif" font-size="6.7" font-weight="bold" fill="#1a1a1a" stroke="#1a1a1a" stroke-width="0.12" text-anchor="middle">Percentage</text>
<path d="M83,318 L83,317.19 L83.75,317.19 L83.75,315.98 L84.5,315.98 L84.5,314.77 L85.25,314.77 L85.25,313.55 L86,313.55 L86,312.34 L86.75,312.34 L86.75,309.45 L87.5,309.45 L87.5,306.49 L88.25,306.49 L88.25,303.5 L89,303.5 L89,264.8 L90.3,264.8 L90.3,298.2 L91.6,298.2 L91.6,292 L94.1,292 L94.1,302 L95.4,302 L95.4,305.9 L97.6,305.9 L97.6,300.8 L98.8,300.8 L98.8,309 L100.5,309 L100.5,312.5 L102,312.5 L102,315.5 L104,315.5 L104,318 Z" fill="#17ad57"/>
<path d="M104,318 L104,316.4 L106,316.4 L106,313.6 L107.3,313.6 L107.3,315 L114.5,315 L114.5,314 L118.2,314 L118.2,312.3 L121.8,312.3 L121.8,309.5 L124.1,309.5 L124.1,305.9 L125.9,305.9 L125.9,300.5 L127.3,300.5 L127.3,296.4 L129.5,296.4 L129.5,295 L132.7,295 L132.7,298.2 L134,298.2 L134,301.4 L135.9,301.4 L135.9,307.7 L137.3,307.7 L137.3,311.4 L139,311.4 L139,313.6 L143.6,313.6 L143.6,314.5 L150.5,314.5 L150.5,316 L154,316 L154,316.8 L163,316.8 L163,318 Z" fill="#6262f6"/>
<rect x="92" y="264.8" width="1.8" height="53.2" fill="#1ee81e" />
<rect x="129.4" y="264.8" width="1.8" height="53.2" fill="#10e6f6" />
<text x="0" y="0" transform="translate(96.2,264) rotate(90)" font-family="'Liberation Sans', Arial, sans-serif" font-size="7" font-weight="bold" fill="#f01818" stroke="#f01818" stroke-width="0.35" textLength="15.3" lengthAdjust="spacingAndGlyphs">Mean</text>
<text x="0" y="0" transform="translate(134.4,264) rotate(90)" font-family="'Liberation Sans', Arial, sans-serif" font-size="7" font-weight="bold" fill="#f01818" stroke="#f01818" stroke-width="0.35" textLength="15.3" lengthAdjust="spacingAndGlyphs">Mean</text>
<line x1="97" y1="289.6" x2="126.4" y2="289.6" stroke="#f9aaaa" stroke-width="1.1"/>
<path d="M94.5,289.6 L97.8,288 L97.8,291.2 Z" fill="#f01818"/>
<path d="M128.9,289.6 L125.6,288 L125.6,291.2 Z" fill="#f01818"/>
<text transform="translate(104.4,296.7) scale(0.9641,1)" font-family="'Liberation Sans', Arial, sans-serif" font-size="6.3" font-weight="bold" fill="#f01818" text-anchor="start" stroke="#f01818" stroke-width="0.42">48.66</text>
<rect x="30.8" y="259.3" width="58.4" height="32.6" fill="#44ac3a" />
<text transform="translate(35.3,270.2) scale(0.8884,1)" font-family="'Liberation Sans', Arial, sans-serif" font-size="6" font-weight="normal" fill="#f4fbf2" text-anchor="start" >Pavement</text>
<text transform="translate(35.3,277.5) scale(0.9278,1)" font-family="'Liberation Sans', Arial, sans-serif" font-size="6" font-weight="normal" fill="#f4fbf2" text-anchor="start" >Mean = 80.26</text>
<text transform="translate(35.3,284.8) scale(0.8324,1)" font-family="'Liberation Sans', Arial, sans-serif" font-size="6" font-weight="normal" fill="#f4fbf2" text-anchor="start" >STD = 5.52</text>
<rect x="181.1" y="257.6" width="52.4" height="32.8" fill="#1a73ca" />
<text transform="translate(185,268.5) scale(0.9077,1)" font-family="'Liberation Sans', Arial, sans-serif" font-size="6" font-weight="normal" fill="#f2f6fc" text-anchor="start" >Lane marking</text>
<text transform="translate(185,275.8) scale(0.9304,1)" font-family="'Liberation Sans', Arial, sans-serif" font-size="6" font-weight="normal" fill="#f2f6fc" text-anchor="start" >Mean = 128.92</text>
<text transform="translate(185,283.1) scale(0.8714,1)" font-family="'Liberation Sans', Arial, sans-serif" font-size="6" font-weight="normal" fill="#f2f6fc" text-anchor="start" >STD = 13.53</text>
<rect x="180.9" y="298.2" width="41.1" height="17.7" fill="#000" />
<text transform="translate(201.45,305.5)" font-family="'Liberation Sans', Arial, sans-serif" font-size="6.5" font-weight="bold" fill="#ececec" text-anchor="middle" stroke="#ececec" stroke-width="0.1">Asphalt</text>
<text transform="translate(201.45,312.3)" font-family="'Liberation Sans', Arial, sans-serif" font-size="6.5" font-weight="bold" fill="#ececec" text-anchor="middle" stroke="#ececec" stroke-width="0.1">point cloud</text>
<rect x="34.9" y="303.7" width="3.6" height="1.5" fill="#12a050" />
<rect x="34.9" y="310.6" width="3.6" height="1.5" fill="#6a6ae0" />
<text transform="translate(40.6,306.5) scale(0.9140,1)" font-family="'Liberation Sans', Arial, sans-serif" font-size="6.6" font-weight="bold" fill="#12a050" text-anchor="start" stroke="#12a050" stroke-width="0.25">Pavement</text>
<text transform="translate(40.6,313.4) scale(0.9186,1)" font-family="'Liberation Sans', Arial, sans-serif" font-size="6.6" font-weight="bold" fill="#6a6ae0" text-anchor="start" stroke="#6a6ae0" stroke-width="0.25">lane marking</text>
<text transform="translate(101.8,338.9) scale(0.9851,1)" font-family="'Liberation Sans', Arial, sans-serif" font-size="6.65" font-weight="bold" fill="#1a1a1a" text-anchor="start" stroke="#1a1a1a" stroke-width="0.12">Corrected intensity</text>
<text transform="translate(89.6,346.1) scale(1.0017,1)" font-family="'Liberation Sans', Arial, sans-serif" font-size="6.65" font-weight="bold" fill="#1a1a1a" text-anchor="start" stroke="#1a1a1a" stroke-width="0.12">(Concrete-based function)</text>
<rect x="175.4" y="335.4" width="51.5" height="10.1" fill="#fcb900" />
<text transform="translate(201.15,341.9) scale(0.9896,1)" font-family="'Liberation Sans', Arial, sans-serif" font-size="6.2" font-weight="bold" fill="#fdf0cc" text-anchor="middle" >Riegl VUX 1HA</text>
<text transform="translate(124.5,370.4)" font-family="'Liberation Serif', 'Times New Roman', serif" font-size="10.4" font-weight="bold" fill="#1a1a1a" text-anchor="middle" ><tspan font-weight="normal">(</tspan>e<tspan font-weight="normal">)</tspan></text>
<rect x="333.3" y="264.6" width="194.5" height="53.4" fill="none" stroke="#a8a8a8" stroke-width="0.8"/>
<line x1="333.3" y1="318" x2="333.3" y2="316.2" stroke="#a0a0a0" stroke-width="0.7"/>
<line x1="333.3" y1="264.6" x2="333.3" y2="266.4" stroke="#a0a0a0" stroke-width="0.7"/>
<text transform="translate(333.3,329.3)" font-family="'Liberation Sans', Arial, sans-serif" font-size="8" font-weight="normal" fill="#2e2e2e" text-anchor="middle" >0</text>
<line x1="371.45" y1="318" x2="371.45" y2="316.2" stroke="#a0a0a0" stroke-width="0.7"/>
<line x1="371.45" y1="264.6" x2="371.45" y2="266.4" stroke="#a0a0a0" stroke-width="0.7"/>
<text transform="translate(371.45,329.3)" font-family="'Liberation Sans', Arial, sans-serif" font-size="8" font-weight="normal" fill="#2e2e2e" text-anchor="middle" >50</text>
<line x1="409.6" y1="318" x2="409.6" y2="316.2" stroke="#a0a0a0" stroke-width="0.7"/>
<line x1="409.6" y1="264.6" x2="409.6" y2="266.4" stroke="#a0a0a0" stroke-width="0.7"/>
<text transform="translate(409.6,329.3)" font-family="'Liberation Sans', Arial, sans-serif" font-size="8" font-weight="normal" fill="#2e2e2e" text-anchor="middle" >100</text>
<line x1="447.75" y1="318" x2="447.75" y2="316.2" stroke="#a0a0a0" stroke-width="0.7"/>
<line x1="447.75" y1="264.6" x2="447.75" y2="266.4" stroke="#a0a0a0" stroke-width="0.7"/>
<text transform="translate(447.75,329.3)" font-family="'Liberation Sans', Arial, sans-serif" font-size="8" font-weight="normal" fill="#2e2e2e" text-anchor="middle" >150</text>
<line x1="485.9" y1="318" x2="485.9" y2="316.2" stroke="#a0a0a0" stroke-width="0.7"/>
<line x1="485.9" y1="264.6" x2="485.9" y2="266.4" stroke="#a0a0a0" stroke-width="0.7"/>
<text transform="translate(485.9,329.3)" font-family="'Liberation Sans', Arial, sans-serif" font-size="8" font-weight="normal" fill="#2e2e2e" text-anchor="middle" >200</text>
<line x1="524.05" y1="318" x2="524.05" y2="316.2" stroke="#a0a0a0" stroke-width="0.7"/>
<line x1="524.05" y1="264.6" x2="524.05" y2="266.4" stroke="#a0a0a0" stroke-width="0.7"/>
<text transform="translate(524.05,329.3)" font-family="'Liberation Sans', Arial, sans-serif" font-size="8" font-weight="normal" fill="#2e2e2e" text-anchor="middle" >250</text>
<line x1="333.3" y1="318" x2="335.1" y2="318" stroke="#a0a0a0" stroke-width="0.7"/>
<line x1="527.8" y1="318" x2="526" y2="318" stroke="#a0a0a0" stroke-width="0.7"/>
<text transform="translate(330.1,320.9)" font-family="'Liberation Sans', Arial, sans-serif" font-size="8" font-weight="normal" fill="#2e2e2e" text-anchor="end" >0</text>
<line x1="333.3" y1="291.3" x2="335.1" y2="291.3" stroke="#a0a0a0" stroke-width="0.7"/>
<line x1="527.8" y1="291.3" x2="526" y2="291.3" stroke="#a0a0a0" stroke-width="0.7"/>
<text transform="translate(330.1,294.2)" font-family="'Liberation Sans', Arial, sans-serif" font-size="8" font-weight="normal" fill="#2e2e2e" text-anchor="end" >0.1</text>
<line x1="333.3" y1="264.6" x2="335.1" y2="264.6" stroke="#a0a0a0" stroke-width="0.7"/>
<line x1="527.8" y1="264.6" x2="526" y2="264.6" stroke="#a0a0a0" stroke-width="0.7"/>
<text transform="translate(330.1,267.5)" font-family="'Liberation Sans', Arial, sans-serif" font-size="8" font-weight="normal" fill="#2e2e2e" text-anchor="end" >0.2</text>
<text x="0" y="0" transform="translate(315.1,293.7) rotate(-90)" font-family="'Liberation Sans', Arial, sans-serif" font-size="6.7" font-weight="bold" fill="#1a1a1a" stroke="#1a1a1a" stroke-width="0.12" text-anchor="middle">Percentage</text>
<rect x="405.9" y="280.3" width="1.4" height="37.7" fill="#8ccfa8" />
<rect x="412.2" y="295" width="1.1" height="23" fill="#8ccfa8" />
<path d="M399.5,318 L399.5,316.5 L401,316.5 L401,313.5 L402.2,313.5 L402.2,309.5 L403.3,309.5 L403.3,307.8 L405.9,307.8 L405.9,292 L409,292 L409,291 L410.6,291 L410.6,291.8 L412.2,291.8 L412.2,299 L413.2,299 L413.2,312 L414.6,312 L414.6,318 Z" fill="#17ad57"/>
<path d="M414.6,318 L414.6,316.6 L415.4,316.6 L415.4,316.6 L417,316.6 L417,316.4 L425,316.4 L425,315.87 L426,315.87 L426,314.82 L427,314.82 L427,313.77 L428,313.77 L428,312.72 L429,312.72 L429,311.67 L430,311.67 L430,310.62 L431,310.62 L431,309.57 L432,309.57 L432,308.52 L433,308.52 L433,307.47 L434,307.47 L434,306.42 L435,306.42 L435,305.37 L436,305.37 L436,304.32 L437,304.32 L437,304.86 L438,304.86 L438,306.1 L439,306.1 L439,307.34 L440,307.34 L440,308.57 L441,308.57 L441,309.81 L442,309.81 L442,311.04 L443,311.04 L443,312.28 L444,312.28 L444,313.51 L445,313.51 L445,314.75 L446,314.75 L446,315.98 L447,315.98 L447,317 L452,317 L452,317.4 L455,317.4 L455,318 Z" fill="#6262f6"/>
<rect x="415.4" y="299.8" width="1.6" height="18.2" fill="#9c9cf2" />
<rect x="408.3" y="264.6" width="1.8" height="53.4" fill="#1ee81e" />
<rect x="432.1" y="264.6" width="1.8" height="53.4" fill="#10e6f6" />
<text x="0" y="0" transform="translate(412.3,262.1) rotate(90)" font-family="'Liberation Sans', Arial, sans-serif" font-size="7" font-weight="bold" fill="#f01818" stroke="#f01818" stroke-width="0.35" textLength="15.3" lengthAdjust="spacingAndGlyphs">Mean</text>
<text x="0" y="0" transform="translate(435.9,262.3) rotate(90)" font-family="'Liberation Sans', Arial, sans-serif" font-size="7" font-weight="bold" fill="#f01818" stroke="#f01818" stroke-width="0.35" textLength="15.3" lengthAdjust="spacingAndGlyphs">Mean</text>
<line x1="413" y1="286.8" x2="428.4" y2="286.8" stroke="#f9aaaa" stroke-width="1.1"/>
<path d="M410.5,286.8 L413.8,285.2 L413.8,288.4 Z" fill="#f01818"/>
<path d="M430.9,286.8 L427.6,285.2 L427.6,288.4 Z" fill="#f01818"/>
<text transform="translate(411.8,294.8) scale(0.9832,1)" font-family="'Liberation Sans', Arial, sans-serif" font-size="6.3" font-weight="bold" fill="#f01818" text-anchor="start" stroke="#f01818" stroke-width="0.42">31.38</text>
<rect x="346.8" y="258.1" width="58.2" height="32.6" fill="#44ac3a" />
<text transform="translate(351.3,269) scale(0.8884,1)" font-family="'Liberation Sans', Arial, sans-serif" font-size="6" font-weight="normal" fill="#f4fbf2" text-anchor="start" >Pavement</text>
<text transform="translate(351.3,276.3) scale(0.9251,1)" font-family="'Liberation Sans', Arial, sans-serif" font-size="6" font-weight="normal" fill="#f4fbf2" text-anchor="start" >Mean = 99.31</text>
<text transform="translate(351.3,283.6) scale(0.8487,1)" font-family="'Liberation Sans', Arial, sans-serif" font-size="6" font-weight="normal" fill="#f4fbf2" text-anchor="start" >STD = 4.07</text>
<rect x="491" y="258" width="53.2" height="32.3" fill="#1a73ca" />
<text transform="translate(494.9,268.9) scale(0.9077,1)" font-family="'Liberation Sans', Arial, sans-serif" font-size="6" font-weight="normal" fill="#f2f6fc" text-anchor="start" >Lane marking</text>
<text transform="translate(494.9,276.2) scale(0.9304,1)" font-family="'Liberation Sans', Arial, sans-serif" font-size="6" font-weight="normal" fill="#f2f6fc" text-anchor="start" >Mean = 130.70</text>
<text transform="translate(494.9,283.5) scale(0.8714,1)" font-family="'Liberation Sans', Arial, sans-serif" font-size="6" font-weight="normal" fill="#f2f6fc" text-anchor="start" >STD = 10.87</text>
<rect x="488" y="297.9" width="41.2" height="17.9" fill="#000" />
<text transform="translate(508.6,305.2)" font-family="'Liberation Sans', Arial, sans-serif" font-size="6.5" font-weight="bold" fill="#ececec" text-anchor="middle" stroke="#ececec" stroke-width="0.1">Concrete</text>
<text transform="translate(508.6,312)" font-family="'Liberation Sans', Arial, sans-serif" font-size="6.5" font-weight="bold" fill="#ececec" text-anchor="middle" stroke="#ececec" stroke-width="0.1">point cloud</text>
<rect x="342" y="303.7" width="3.6" height="1.5" fill="#12a050" />
<rect x="342" y="310.6" width="3.6" height="1.5" fill="#6a6ae0" />
<text transform="translate(347.7,306.5) scale(0.9140,1)" font-family="'Liberation Sans', Arial, sans-serif" font-size="6.6" font-weight="bold" fill="#12a050" text-anchor="start" stroke="#12a050" stroke-width="0.25">Pavement</text>
<text transform="translate(347.7,313.4) scale(0.9186,1)" font-family="'Liberation Sans', Arial, sans-serif" font-size="6.6" font-weight="bold" fill="#6a6ae0" text-anchor="start" stroke="#6a6ae0" stroke-width="0.25">lane marking</text>
<text transform="translate(408.5,338.9) scale(0.9933,1)" font-family="'Liberation Sans', Arial, sans-serif" font-size="6.65" font-weight="bold" fill="#1a1a1a" text-anchor="start" stroke="#1a1a1a" stroke-width="0.12">Corrected intensity</text>
<text transform="translate(396.9,346.1) scale(0.9908,1)" font-family="'Liberation Sans', Arial, sans-serif" font-size="6.65" font-weight="bold" fill="#1a1a1a" text-anchor="start" stroke="#1a1a1a" stroke-width="0.12">(Concrete-based function)</text>
<rect x="481.8" y="335.4" width="51.5" height="10.1" fill="#fcb900" />
<text transform="translate(507.55,341.9) scale(0.9896,1)" font-family="'Liberation Sans', Arial, sans-serif" font-size="6.2" font-weight="bold" fill="#fdf0cc" text-anchor="middle" >Riegl VUX 1HA</text>
<text transform="translate(426.1,370.4)" font-family="'Liberation Serif', 'Times New Roman', serif" font-size="10.4" font-weight="bold" fill="#1a1a1a" text-anchor="middle" ><tspan font-weight="normal">(</tspan>f<tspan font-weight="normal">)</tspan></text>
</svg>
</body></html>
